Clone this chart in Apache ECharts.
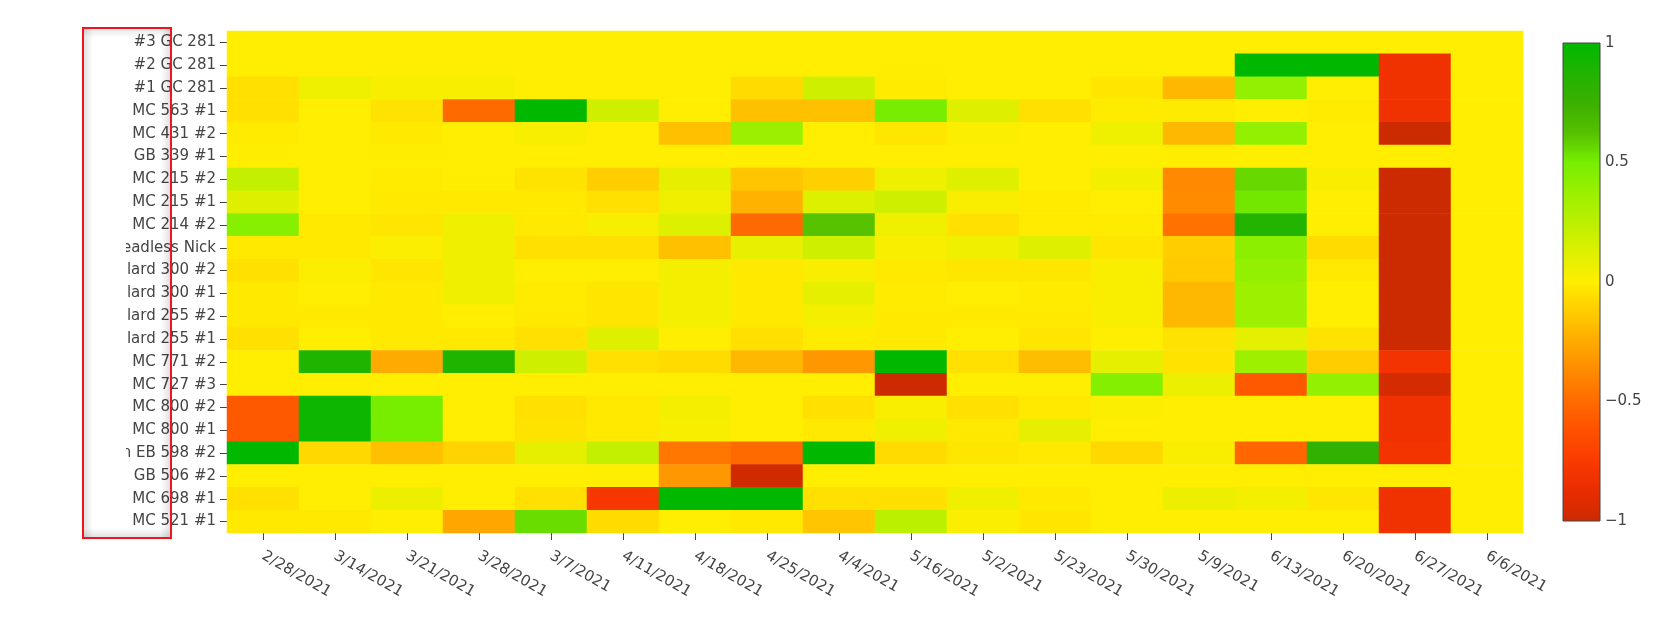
<!DOCTYPE html>
<html><head><meta charset="utf-8">
<script src="https://cdn.jsdelivr.net/npm/echarts@6/dist/echarts.min.js"></script>
<style>html,body{margin:0;padding:0;background:#fff}#c{width:1673px;height:621px}</style>
</head><body><div id="c"></div>
<script>
const dates = ['2/28/2021','3/14/2021','3/21/2021','3/28/2021','3/7/2021','4/11/2021','4/18/2021','4/25/2021','4/4/2021','5/16/2021','5/2/2021','5/23/2021','5/30/2021','5/9/2021','6/13/2021','6/20/2021','6/27/2021','6/6/2021'];
const sites = ['#3 GC 281','#2 GC 281','#1 GC 281','MC 563 #1','MC 431 #2','GB 339 #1','MC 215 #2','MC 215 #1','MC 214 #2','Headless Nick','Mallard 300 #2','Mallard 300 #1','Mallard 255 #2','Mallard 255 #1','MC 771 #2','MC 727 #3','MC 800 #2','MC 800 #1','Marlin EB 598 #2','GB 506 #2','MC 698 #1','MC 521 #1'];

const gc281_3   = [0,0,0,0,0,0,0,0,0,0,0,0,0,0,0,0,0,0];
const gc281_2   = [0,0,0,0,0,0,0,0,0,0,0,0,0,0,1,1,-0.82,0];
const gc281_1   = [-0.05,0.06,0.03,0.03,0,0,0,-0.07,0.18,-0.01,0,0,-0.03,-0.2,0.4,0,-0.82,0];
const mc563_1   = [-0.05,0,-0.04,-0.5,1,0.18,0,-0.17,-0.17,0.5,0.12,-0.05,-0.01,-0.01,0,-0.01,-0.82,0];
const mc431_2   = [-0.01,0,-0.02,0,0.03,0,-0.17,0.37,0,-0.03,0.01,0,0.06,-0.2,0.4,0,-1,0];
const gb339_1   = [0,0,0,0,0,0,0,0,0,0,0,0,0,0,0,0,0,0];
const mc215_2   = [0.22,0,-0.01,0,-0.04,-0.12,0.09,-0.15,-0.11,0.06,0.12,0,0.04,-0.38,0.56,0.02,-1,0];
const mc215_1   = [0.12,0,-0.02,-0.02,-0.02,-0.05,0.05,-0.22,0.13,0.18,0.02,-0.01,0,-0.37,0.52,0,-1,0];
const mc214_2   = [0.44,-0.02,-0.03,0.06,-0.02,0.03,0.13,-0.5,0.62,0.05,-0.05,-0.01,-0.01,-0.47,0.86,0,-1,0];
const headless  = [-0.02,-0.02,0.01,0.05,-0.05,-0.05,-0.17,0.08,0.18,0.02,0.05,0.12,-0.03,-0.12,0.42,-0.07,-1,0];
const mal300_2  = [-0.05,0.01,-0.03,0.05,0,0,0.04,-0.02,0.02,-0.02,-0.03,-0.03,0.02,-0.13,0.4,-0.02,-1,0];
const mal300_1  = [-0.02,0,-0.02,0.05,-0.01,-0.03,0.04,-0.02,0.09,-0.01,0,-0.01,0.02,-0.2,0.36,0,-1,0];
const mal255_2  = [-0.02,-0.02,-0.02,0,-0.02,-0.03,0.04,-0.02,0.04,-0.02,-0.02,-0.02,0.02,-0.2,0.36,0,-1,0];
const mal255_1  = [-0.05,0,-0.02,-0.02,-0.05,0.12,0,-0.05,-0.01,-0.02,0,-0.03,0,-0.04,0.1,-0.04,-1,0];
const mc771_2   = [0,0.88,-0.25,0.88,0.18,-0.05,-0.07,-0.2,-0.32,1,-0.05,-0.18,0.09,-0.04,0.36,-0.12,-0.8,0];
const mc727_3   = [0,0,0,0,0,0,0,0,0,-1,0,0,0.45,0.07,-0.58,0.4,-0.96,0];
const mc800_2   = [-0.58,0.95,0.5,0,-0.05,-0.02,0.04,0,-0.05,0.02,-0.05,-0.02,0.01,0,0,0,-0.82,0];
const mc800_1   = [-0.58,0.95,0.5,0,-0.04,-0.02,0.03,0,-0.02,0.05,-0.02,0.09,0,0,0,0,-0.82,0];
const eb598_2   = [1,-0.08,-0.17,-0.1,0.09,0.22,-0.45,-0.5,1,-0.07,-0.03,-0.02,-0.08,0.02,-0.52,0.8,-0.8,0];
const gb506_2   = [0,0,0,0,0,0,-0.32,-0.98,0,0,0,0,0,0,0,0,0,0];
const mc698_1   = [-0.05,0,0.07,0,-0.05,-0.78,1,1,-0.05,-0.05,0.05,-0.02,0,0.07,0.04,-0.03,-0.82,0];
const mc521_1   = [-0.02,-0.02,0,-0.26,0.55,-0.07,0,-0.02,-0.15,0.25,0.01,-0.03,0,0,0,0,-0.82,0];

const rows = [gc281_3,gc281_2,gc281_1,mc563_1,mc431_2,gb339_1,mc215_2,mc215_1,mc214_2,headless,
  mal300_2,mal300_1,mal255_2,mal255_1,mc771_2,mc727_3,mc800_2,mc800_1,eb598_2,gb506_2,mc698_1,mc521_1];

// colorscale from -1 to 1, evenly spaced
const scaleColors = ['#cc2a00','#e82c00','#fa3a00','#ff5000','#ff6a00','#ff8a00','#ffaa00','#ffcc00','#ffee00',
  '#ddf000','#bbf000','#99f000','#77ee00','#55c000','#3cb000','#20b400','#00b800'];

const data = [];
rows.forEach((r, yi) => r.forEach((v, xi) => data.push([xi, yi, v])));

const font = 'DejaVu Sans';
const txt = '#444';
const chart = echarts.init(document.getElementById('c'));
const n = scaleColors.length;
const stops = scaleColors.map((c, i) => ({ offset: 1 - i / (n - 1), color: c })).reverse();

const insetW = 10;
const box = { x: 83, y: 28, w: 88, h: 510 };

chart.setOption({
  animation: false,
  backgroundColor: '#fff',
  grid: [
    { left: 227, top: 31, width: 1296, height: 502 },
    { left: 1563, top: 43, width: 37, height: 478, show: true, borderColor: '#444', borderWidth: 1,
      backgroundColor: new echarts.graphic.LinearGradient(0, 0, 0, 1, stops) }
  ],
  xAxis: [
    { type: 'category', data: dates, gridIndex: 0,
      axisLine: { show: false },
      axisTick: { show: true, length: 7, alignWithLabel: true, lineStyle: { color: txt } },
      axisLabel: { interval: 0, rotate: -30, fontFamily: font, fontSize: 15, color: txt, margin: 22 },
      splitLine: { show: false } },
    { type: 'category', data: [''], gridIndex: 1, show: false }
  ],
  yAxis: [
    { type: 'category', data: sites, inverse: true, gridIndex: 0,
      axisLine: { show: false },
      axisTick: { show: true, length: 7, alignWithLabel: true, lineStyle: { color: txt } },
      axisLabel: { interval: 0, fontFamily: font, fontSize: 15, color: txt, margin: 11 },
      splitLine: { show: false } },
    { type: 'value', gridIndex: 1, min: -1, max: 1, interval: 0.5, position: 'right',
      axisLine: { show: false }, axisTick: { show: false }, splitLine: { show: false },
      axisLabel: { fontFamily: font, fontSize: 15, color: txt, margin: 5,
        formatter: v => v < 0 ? '\u2212' + Math.abs(v) : String(v) } }
  ],
  visualMap: { show: false, min: -1, max: 1, seriesIndex: 0, inRange: { color: scaleColors } },
  series: [{ type: 'heatmap', data: data, xAxisIndex: 0, yAxisIndex: 0, progressive: 0 }],
  graphic: [
    { type: 'rect', z: 100, shape: { x: 0, y: 0, width: 126, height: 560 }, style: { fill: '#fff' } },
    { type: 'rect', z: 101, shape: { x: box.x, y: box.y, width: insetW, height: box.h },
      style: { fill: new echarts.graphic.LinearGradient(0, 0, 1, 0, [{offset:0,color:'rgba(0,0,0,0.13)'},{offset:1,color:'rgba(0,0,0,0)'}]) } },
    { type: 'rect', z: 101, shape: { x: box.x + box.w - insetW, y: box.y, width: insetW, height: box.h },
      style: { fill: new echarts.graphic.LinearGradient(1, 0, 0, 0, [{offset:0,color:'rgba(0,0,0,0.13)'},{offset:1,color:'rgba(0,0,0,0)'}]) } },
    { type: 'rect', z: 101, shape: { x: box.x, y: box.y, width: box.w, height: insetW },
      style: { fill: new echarts.graphic.LinearGradient(0, 0, 0, 1, [{offset:0,color:'rgba(0,0,0,0.10)'},{offset:1,color:'rgba(0,0,0,0)'}]) } },
    { type: 'rect', z: 101, shape: { x: box.x, y: box.y + box.h - insetW, width: box.w, height: insetW },
      style: { fill: new echarts.graphic.LinearGradient(0, 1, 0, 0, [{offset:0,color:'rgba(0,0,0,0.13)'},{offset:1,color:'rgba(0,0,0,0)'}]) } },
    { type: 'rect', z: 102, shape: { x: box.x, y: box.y, width: box.w, height: box.h },
      style: { fill: 'none', stroke: '#f0141e', lineWidth: 2 } }
  ]
});
</script></body></html>
